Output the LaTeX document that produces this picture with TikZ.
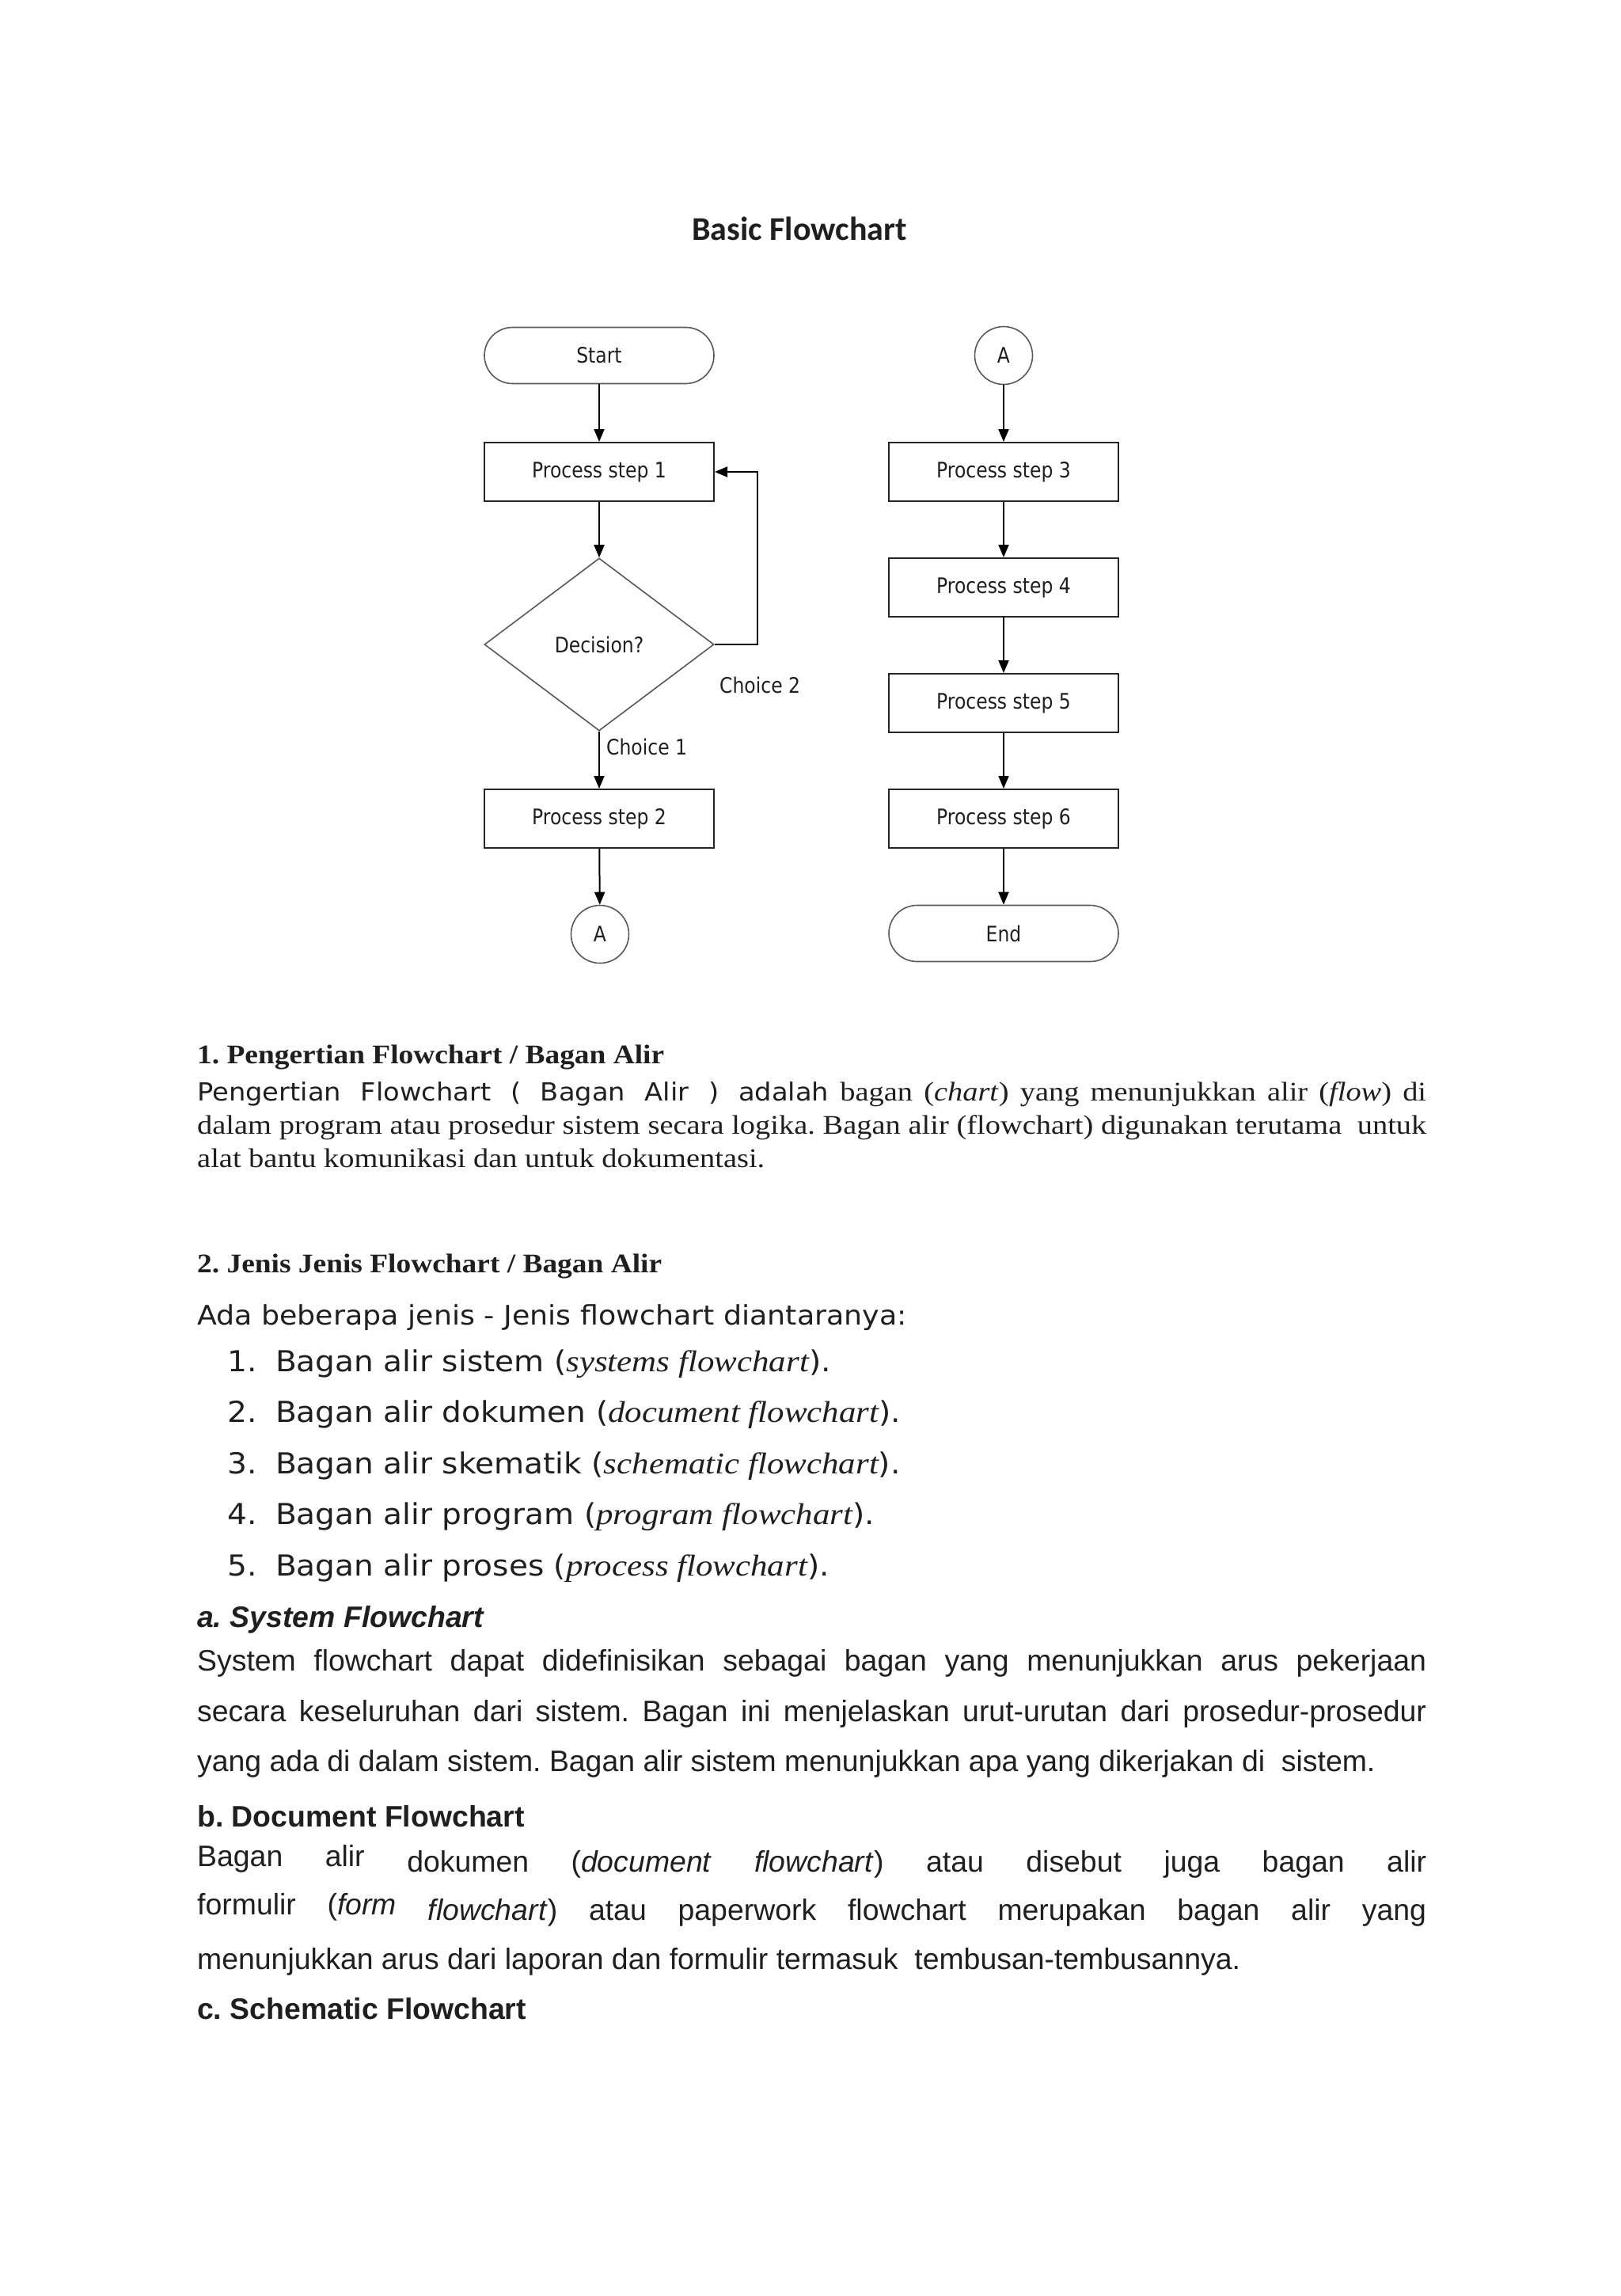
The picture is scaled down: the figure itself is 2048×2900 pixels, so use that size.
\documentclass[tikz,border=0pt]{standalone}
\usepackage{fontspec}
\setmainfont{Liberation Serif}[FakeStretch=1.13]
\newfontfamily\fhd{Liberation Serif}[FakeStretch=1.10]
\newfontfamily\fdvs{DejaVu Sans}[FakeStretch=1.07]
\newfontfamily\ftah{DejaVu Sans}[FakeStretch=0.87]
\newfontfamily\fari{Liberation Sans}
\newfontfamily\fcal{Carlito}
\usetikzlibrary{shapes.geometric,shapes.misc,arrows.meta}
\newcommand\setfs[1]{\fontsize{#1}{#1}\selectfont}
\frenchspacing
\begin{document}
\begin{tikzpicture}[x=1pt,y=-1pt,
  every node/.style={text=black!88},
  fc/.style={draw=black!85,line width=2pt,font=\ftah\setfs{27pt},inner sep=0pt},
  thin/.style={draw=black!65,line width=1.6pt},
  proc/.style={fc,rectangle,minimum width=290pt,minimum height=74pt},
  term/.style={fc,thin,rounded rectangle,minimum width=290pt,minimum height=71pt},
  conn/.style={fc,thin,circle,minimum size=73pt},
  dec/.style={fc,thin,diamond,minimum width=290pt,minimum height=218pt},
  arr/.style={draw=black,line width=2pt,-{Triangle[length=16pt,width=13pt]}},
  lbl/.style={font=\ftah\setfs{27pt},inner sep=0pt},
  tx/.style={anchor=base west,inner sep=0pt}]
\useasboundingbox (0,0) rectangle (2048,2900);
\fill[white] (0,0) rectangle (2048,2900);

% title
\node[anchor=base,inner sep=0pt,font=\fcal\bfseries\setfs{42pt}] (title) at (1010,303) {Basic Flowchart};

% left column
\node[term] (start) at (757,449) {Start};
\node[proc] (p1) at (757,596) {Process step 1};
\node[dec] (dec) at (757,814) {Decision?};
\node[proc] (p2) at (757,1034) {Process step 2};
\node[conn] (a1) at (758,1180) {A};
% right column
\node[conn] (a2) at (1268,449) {A};
\node[proc] (p3) at (1268,596) {Process step 3};
\node[proc] (p4) at (1268,742) {Process step 4};
\node[proc] (p5) at (1268,888) {Process step 5};
\node[proc] (p6) at (1268,1034) {Process step 6};
\node[term] (end) at (1268,1179) {End};

\draw[arr] (start) -- (p1);
\draw[arr] (p1) -- (dec);
\draw[arr] (dec) -- (p2);
\draw[arr] (p2) -- (a1);
\draw[arr] (dec.east) -- ++(54,0) |- (p1.east);
\draw[arr] (a2) -- (p3);
\draw[arr] (p3) -- (p4);
\draw[arr] (p4) -- (p5);
\draw[arr] (p5) -- (p6);
\draw[arr] (p6) -- (end);

\node[lbl,anchor=west] (c2) at (909,865) {Choice 2};
\node[lbl,anchor=west] (c1) at (766,943) {Choice 1};

% section 1
\node[tx] (h1) at (249,1343) {\fhd\bfseries\setfs{34pt}1. Pengertian Flowchart / Bagan Alir};
\node[tx] (l1) at (249,1390) {\setfs{34pt}\makebox[1553pt][s]{{\fdvs\setfs{31.5pt}\makebox[798pt][s]{Pengertian Flowchart ( Bagan Alir ) adalah}} bagan (\textit{chart}) yang menunjukkan alir (\textit{flow}) di}};
\node[tx] (l2) at (249,1432) {\setfs{34pt}\makebox[1553pt][s]{dalam program atau prosedur sistem secara logika. Bagan alir (flowchart) digunakan terutama\ \ untuk}};
\node[tx] (l3) at (249,1474) {\setfs{34pt}alat bantu komunikasi dan untuk dokumentasi.};

% section 2
\node[tx] (h2) at (249,1607) {\fhd\bfseries\setfs{34pt}2. Jenis Jenis Flowchart / Bagan Alir};
\node[tx] (ada) at (249,1673) {\fdvs\setfs{34pt}Ada beberapa jenis - Jenis flowchart diantaranya:};

\foreach \n/\y/\t/\e in {1/1732/Bagan alir sistem/systems flowchart,
                         2/1796.5/Bagan alir dokumen/document flowchart,
                         3/1861/Bagan alir skematik/schematic flowchart,
                         4/1925.5/Bagan alir program/program flowchart,
                         5/1990/Bagan alir proses/process flowchart}{
  \node[tx] (n\n) at (287,\y) {\fdvs\setfs{36.5pt}\n.};
  \node[tx] (i\n) at (348,\y) {\fdvs\setfs{36.5pt}\t\ ({\rmfamily\itshape\setfs{38pt}\e}).};
}

% a
\node[tx] (ha) at (249,2055) {\fari\bfseries\itshape\setfs{37.4pt}a. System Flowchart};
\node[tx] (a1l) at (249,2110) {\fari\setfs{37.4pt}\makebox[1553pt][s]{System flowchart dapat didefinisikan sebagai bagan yang menunjukkan arus pekerjaan}};
\node[tx] (a2l) at (249,2174) {\fari\setfs{37.4pt}\makebox[1553pt][s]{secara keseluruhan dari sistem. Bagan ini menjelaskan urut-urutan dari prosedur-prosedur}};
\node[tx] (a3l) at (249,2237.5) {\fari\setfs{37.4pt}yang ada di dalam sistem. Bagan alir sistem menunjukkan apa yang dikerjakan di\ \ sistem.};

% b
\node[tx] (hb) at (249,2307) {\fari\bfseries\setfs{37.4pt}b. Document Flowchart};
\node[tx] (b1l) at (249,2364) {\fari\setfs{37.4pt}\makebox[1553pt][s]{\raisebox{6.5pt}{Bagan} \raisebox{6.5pt}{alir} dokumen (\textit{document} \textit{flowchart}) atau disebut juga bagan alir}};
\node[tx] (b2l) at (249,2425) {\fari\setfs{37.4pt}\makebox[1553pt][s]{\raisebox{7pt}{formulir} \raisebox{7pt}{(\textit{form}} \textit{flowchart}) atau paperwork flowchart merupakan bagan alir yang}};
\node[tx] (b3l) at (249,2487.5) {\fari\setfs{37.4pt}menunjukkan arus dari laporan dan formulir termasuk\ \ tembusan-tembusannya.};

% c
\node[tx] (hc) at (249,2550) {\fari\bfseries\setfs{37.4pt}c. Schematic Flowchart};
\end{tikzpicture}
\end{document}
